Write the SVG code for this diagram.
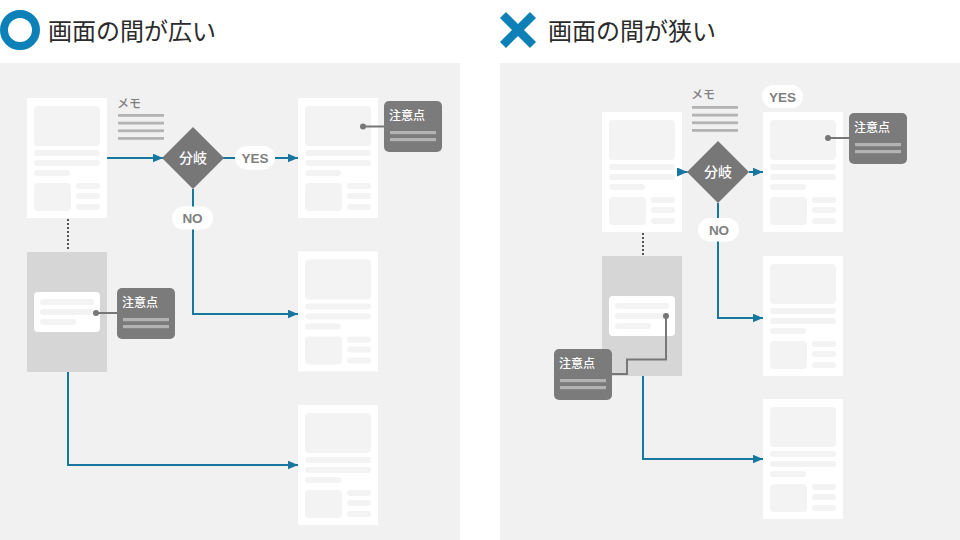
<svg xmlns="http://www.w3.org/2000/svg" xmlns:xlink="http://www.w3.org/1999/xlink" width="960" height="540" viewBox="0 0 960 540">
<style>
.title{font-family:"Noto Sans CJK JP","Noto Sans",sans-serif;font-size:24px;font-weight:400;fill:#2b2b2b}
.memo{font-family:"Noto Sans CJK JP",sans-serif;font-size:12px;font-weight:500;fill:#808080}
.note{font-family:"Noto Sans CJK JP",sans-serif;font-size:12px;font-weight:500;fill:#fff}
.dec{font-family:"Noto Sans CJK JP",sans-serif;font-size:14px;font-weight:500;fill:#fff;text-anchor:middle}
.pilltext{font-family:"Liberation Sans",Arial,sans-serif;font-size:13.5px;font-weight:700;fill:#808080;text-anchor:middle}
.panel{fill:#f1f1f1}
.pg{fill:#fff}
.in{fill:#f3f3f3}
.flow{fill:none;stroke:#17779f;stroke-width:2}
.dots{fill:none;stroke:#555;stroke-width:2;stroke-dasharray:2 2}
.lead{fill:none;stroke:#777;stroke-width:2}
.dot{fill:#777}
.box{fill:#7b7b7b}
.bar{fill:#b3b3b3}
.pill{fill:#fff}
.dia{fill:#777}
</style>
<defs>
<marker id="arrow" markerUnits="userSpaceOnUse" markerWidth="11" markerHeight="9" refX="10.5" refY="4.5" orient="auto"><path d="M0 0L10.5 4.5L0 9Z" fill="#17779f"/></marker>
<g id="page">
<rect class="pg" width="80" height="120"/>
<rect class="in" x="7" y="8" width="66" height="40" rx="4"/>
<rect class="in" x="7" y="52" width="66" height="6" rx="3"/>
<rect class="in" x="7" y="62" width="66" height="6" rx="3"/>
<rect class="in" x="7" y="72" width="36" height="6" rx="3"/>
<rect class="in" x="7" y="85" width="37" height="28" rx="4"/>
<rect class="in" x="49" y="85" width="24" height="6" rx="3"/>
<rect class="in" x="49" y="95" width="24" height="6" rx="3"/>
<rect class="in" x="49" y="106" width="24" height="6" rx="3"/>
</g>
<g id="grayPage">
<rect width="80" height="120" fill="#d6d6d6"/>
<rect class="pg" x="7" y="40" width="66" height="40" rx="4"/>
<rect class="in" x="13" y="47" width="54" height="6" rx="3"/>
<rect class="in" x="13" y="57" width="54" height="6" rx="3"/>
<rect class="in" x="13" y="67" width="36" height="6" rx="3"/>
</g>
<g id="memoBars">
<rect class="bar" width="46" height="2.8"/>
<rect class="bar" y="7.7" width="46" height="2.8"/>
<rect class="bar" y="15.4" width="46" height="2.8"/>
<rect class="bar" y="23" width="46" height="2.8"/>
</g>
<g id="noteBox">
<rect class="box" width="58" height="51" rx="5"/>
<rect class="bar" x="6" y="30" width="46" height="3.200"/>
<rect class="bar" x="6" y="37" width="46" height="3.200"/>
<text class="note" x="5" y="19">注意点</text>
</g>
</defs>

<rect class="panel" x="0" y="63" width="460" height="477"/>
<rect class="panel" x="500" y="63" width="460" height="477"/>

<g id="title-left">
<circle cx="20" cy="30" r="16" fill="none" stroke="#0e80b8" stroke-width="8"/>
<text class="title" x="48" y="40">画面の間が広い</text>
</g>
<g id="title-right">
<path d="M503 15L533 45M533 15L503 45" fill="none" stroke="#0e80b8" stroke-width="8.500"/>
<text class="title" x="548" y="40">画面の間が狭い</text>
</g>

<g id="l-page1"><use href="#page" x="27" y="98"/></g>
<g id="l-page2"><use href="#page" x="298" y="98"/></g>
<g id="l-page3"><use href="#page" x="298" y="251.5"/></g>
<g id="l-page4"><use href="#page" x="298" y="405"/></g>
<g id="l-gray"><use href="#grayPage" x="27" y="252"/></g>
<g id="r-page1"><use href="#page" x="602" y="112"/></g>
<g id="r-page2"><use href="#page" x="763" y="112"/></g>
<g id="r-page3"><use href="#page" x="763" y="256"/></g>
<g id="r-page4"><use href="#page" x="763" y="399"/></g>
<g id="r-gray"><use href="#grayPage" x="602" y="256"/></g>

<g id="connectors">
<path class="flow" marker-end="url(#arrow)" d="M107 158H163"/>
<path class="flow" marker-end="url(#arrow)" d="M223 158H298"/>
<path class="flow" marker-end="url(#arrow)" d="M193 189V314H298"/>
<path class="flow" marker-end="url(#arrow)" d="M68 372V465H298"/>
<path class="dots" d="M68 219V251"/>
<path class="lead" d="M363 126.5H384"/>
<circle class="dot" cx="363" cy="126.5" r="3"/>
<path class="lead" d="M96 313H117"/>
<circle class="dot" cx="96" cy="313" r="3"/>
<path class="flow" marker-end="url(#arrow)" d="M682 172H687.500"/>
<path class="flow" marker-end="url(#arrow)" d="M749 172H763"/>
<path class="flow" marker-end="url(#arrow)" d="M718 203V318H763"/>
<path class="flow" marker-end="url(#arrow)" d="M643 376V459H763"/>
<path class="dots" d="M643 233V255"/>
<path class="lead" d="M828 138H849"/>
<circle class="dot" cx="828" cy="138" r="3"/>
<path class="lead" d="M666 316V359.500H627V374H612"/>
<circle class="dot" cx="666" cy="316" r="3"/>
</g>

<g id="l-memo"><text class="memo" x="117" y="108">メモ</text><use href="#memoBars" x="118" y="114"/></g>
<g id="r-memo"><text class="memo" x="691" y="99">メモ</text><use href="#memoBars" x="692" y="106"/></g>

<g id="l-decision"><path class="dia" d="M193 127L224 158L193 189L162 158Z"/><text class="dec" x="193" y="163">分岐</text></g>
<g id="r-decision"><path class="dia" d="M718 141L749 172L718 203L687 172Z"/><text class="dec" x="718" y="177">分岐</text></g>

<g id="l-yes"><rect class="pill" x="235" y="146" width="40" height="23.500" rx="11.750"/><text class="pilltext" x="255" y="162.500">YES</text></g>
<g id="l-no"><rect class="pill" x="172" y="206.500" width="41" height="23" rx="11.500"/><text class="pilltext" x="192.500" y="222.500">NO</text></g>
<g id="r-yes"><rect class="pill" x="762" y="85" width="41" height="23" rx="11.500"/><text class="pilltext" x="782.500" y="101.500">YES</text></g>
<g id="r-no"><rect class="pill" x="698" y="218" width="41" height="23.500" rx="11.750"/><text class="pilltext" x="719" y="234.500">NO</text></g>

<g id="l-note1"><use href="#noteBox" x="384" y="101"/></g>
<g id="l-note2"><use href="#noteBox" x="117" y="288"/></g>
<g id="r-note1"><use href="#noteBox" x="849" y="113"/></g>
<g id="r-note2"><use href="#noteBox" x="554" y="349"/></g>
</svg>
